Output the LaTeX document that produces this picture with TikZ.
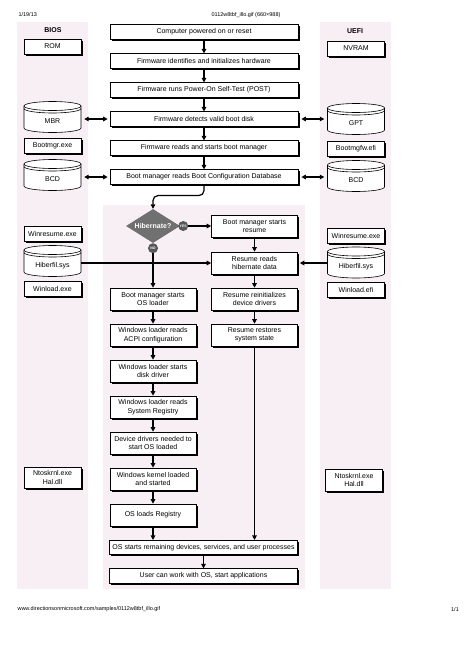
\documentclass[tikz,border=0pt]{standalone}
\usepackage{fontspec}
\setmainfont{Liberation Sans}
\usepackage{tikz}
\usetikzlibrary{arrows.meta,positioning,shapes.geometric,shadows,calc}

\definecolor{panelpink}{RGB}{248,239,245}
\definecolor{decgray}{RGB}{112,112,112}
\definecolor{dotgray}{RGB}{88,88,88}

\begin{document}
\begin{tikzpicture}[
  x=1pt, y=-1pt,
  font=\fontsize{7}{8.5}\selectfont,
  stepbox/.style={draw, fill=white, line width=0.6pt, inner sep=1pt, align=center,
    drop shadow={shadow xshift=1.5pt, shadow yshift=-1.5pt, fill=black, opacity=1}},
  wide/.style={stepbox, minimum width=188pt, minimum height=14.5pt},
  half/.style={stepbox, minimum width=86pt, minimum height=22pt},
  filebox/.style={stepbox, minimum width=57pt, minimum height=15pt},
  disk/.style={minimum width=57pt, minimum height=22pt, inner sep=0pt},
  cyl/.style={draw, fill=white, line width=0.6pt},
  decision/.style={diamond, fill=decgray, text=white, aspect=1.5, inner sep=0pt,
    minimum width=54pt, minimum height=34pt, font=\fontsize{7}{8}\bfseries\selectfont},
  tag/.style={circle, fill=dotgray, text=white, inner sep=0pt, minimum size=10pt,
    font=\fontsize{3.5}{4}\bfseries\selectfont},
  title/.style={font=\fontsize{7}{8}\bfseries\selectfont},
  note/.style={font=\fontsize{5.5}{6}\selectfont},
  flow/.style={-{Triangle[length=4.5pt,width=4.5pt]}, line width=1.2pt},
  both/.style={{Triangle[length=4.5pt,width=4.5pt]}-{Triangle[length=4.5pt,width=4.5pt]}, line width=1.2pt}
]
\path[use as bounding box, fill=white] (0,0) rectangle (474,664);

% panels
\fill[panelpink] (17,22) rectangle (88,589);
\fill[panelpink] (320,22) rectangle (391,589);
\fill[panelpink] (103,205) rectangle (305,589);

% page header and footer
\node[note, anchor=west] (date) at (15,15) {1/19/13};
\node[note] (file) at (246,15) {0112w8tbf\_illo.gif (660×988)};
\node[note, anchor=west] (url) at (14,609) {www.directionsonmicrosoft.com/samples/0112w8tbf\_illo.gif};
\node[note] (page) at (455,610) {1/1};

\node[title] (bios) at (53,30) {BIOS};
\node[title] (uefi) at (355,31) {UEFI};

% firmware steps
\node[wide] (power) at (204,32) {Computer powered on or reset};
\node[wide] (identify) at (204,61) {Firmware identifies and initializes hardware};
\node[wide] (post) at (204,90) {Firmware runs Power-On Self-Test (POST)};
\node[wide] (detect) at (204,119) {Firmware detects valid boot disk};
\node[wide] (bootmgr) at (204,148) {Firmware reads and starts boot manager};
\node[wide] (readbcd) at (204,177) {Boot manager reads Boot Configuration Database};

\node[decision] (hib) at (153,226) {Hibernate?};
\node[tag] (yes) at ([xshift=3pt]hib.east) {YES};
\node[tag] (no) at ([yshift=-5pt]hib.south) {NO};

% resume path
\node[half] (bmresume) at (254.5,226) {Boot manager starts\\resume};
\node[half] (resread) at (254.5,263) {Resume reads\\hibernate data};
\node[half] (resinit) at (254.5,299) {Resume reinitializes\\device drivers};
\node[half] (restore) at (254.5,335) {Resume restores\\system state};

% normal boot path
\node[half] (osloader) at (153,299) {Boot manager starts\\OS loader};
\node[half] (acpi) at (153,335) {Windows loader reads\\ACPI configuration};
\node[half] (diskdrv) at (153,371) {Windows loader starts\\disk driver};
\node[half] (sysreg) at (153,407) {Windows loader reads\\System Registry};
\node[half] (devdrv) at (153,443) {Device drivers needed to\\start OS loaded};
\node[half] (kernel) at (153,479) {Windows kernel loaded\\and started};
\node[half] (osreg) at (153,515) {OS loads Registry};
\node[wide] (osstart) at (203.5,547.5) {OS starts remaining devices, services, and user processes};
\node[wide] (usercan) at (203.5,576) {User can work with OS, start applications};

% files
\node[filebox] (rom) at (52.5,46.5) {ROM};
\node[filebox] (bootmgrexe) at (52.5,145.5) {Bootmgr.exe};
\node[filebox] (winresl) at (52.5,233.5) {Winresume.exe};
\node[filebox] (winloadl) at (52.5,289) {Winload.exe};
\node[filebox, minimum height=21pt] (ntosl) at (52.5,477.5) {Ntoskrnl.exe\\Hal.dll};
\node[filebox] (nvram) at (356,48.5) {NVRAM};
\node[filebox] (bootmgfw) at (356,148.5) {Bootmgfw.efi};
\node[filebox] (winresr) at (356,235.5) {Winresume.exe};
\node[filebox] (winloadr) at (356,289.5) {Winload.efi};
\node[filebox, minimum height=22pt] (ntosr) at (354,480) {Ntoskrnl.exe\\Hal.dll};

\foreach \n/\x/\y/\t in {mbr/52.5/117/MBR, bcdl/52.5/175/BCD, hibl/52.5/261/Hiberfil.sys,
                          gpt/356/119/GPT, bcdr/356/176/BCD, hibr/356/262.5/Hiberfil.sys} {
  \draw[cyl, shift={(\x,\y)}] (-28.5,-11) -- (-28.5,11)
    arc[start angle=180, end angle=360, x radius=28.5pt, y radius=4.5pt] -- (28.5,-11)
    arc[start angle=0, end angle=180, x radius=28.5pt, y radius=4.5pt] -- cycle;
  \draw[cyl, fill=none, shift={(\x,\y)}]
    (-28.5,-11) arc[start angle=180, end angle=360, x radius=28.5pt, y radius=4.5pt]
    (-28.5,-8.5) arc[start angle=180, end angle=360, x radius=28.5pt, y radius=4.5pt];
  \node[disk] (\n) at (\x,\y+4.5) {\t};
}

% connectors
\foreach \a/\b in {power/identify, identify/post, post/detect, detect/bootmgr, bootmgr/readbcd,
                   bmresume/resread, resread/resinit, resinit/restore,
                   osloader/acpi, acpi/diskdrv, diskdrv/sysreg, sysreg/devdrv, devdrv/kernel,
                   kernel/osreg, osstart/usercan} {
  \draw[flow] (\a) -- (\b);
}
\draw[flow, rounded corners=5pt] (readbcd.south) -- ++(0,11) -| (hib.north);
\draw[flow] (yes) -- (bmresume);
\draw[flow] (no) -- (osloader);
\draw[flow] (osreg.south) -- (osreg.south |- osstart.north);
\draw[flow] (restore.south) -- (restore.south |- osstart.north);

\draw[both, shorten <=3pt, shorten >=2pt] (detect.west -| mbr.east) -- (detect.west);
\draw[both, shorten <=3pt, shorten >=3pt] (detect.east) -- (detect.east -| gpt.west);
\draw[both, shorten <=3pt, shorten >=2pt] (readbcd.west -| bcdl.east) -- (readbcd.west);
\draw[both, shorten <=3pt, shorten >=3pt] (readbcd.east) -- (readbcd.east -| bcdr.west);
\draw[flow] (resread.west -| hibl.east) -- (resread.west);
\draw[flow, shorten >=2pt] (resread.east -| hibr.west) -- (resread.east);
\end{tikzpicture}
\end{document}
